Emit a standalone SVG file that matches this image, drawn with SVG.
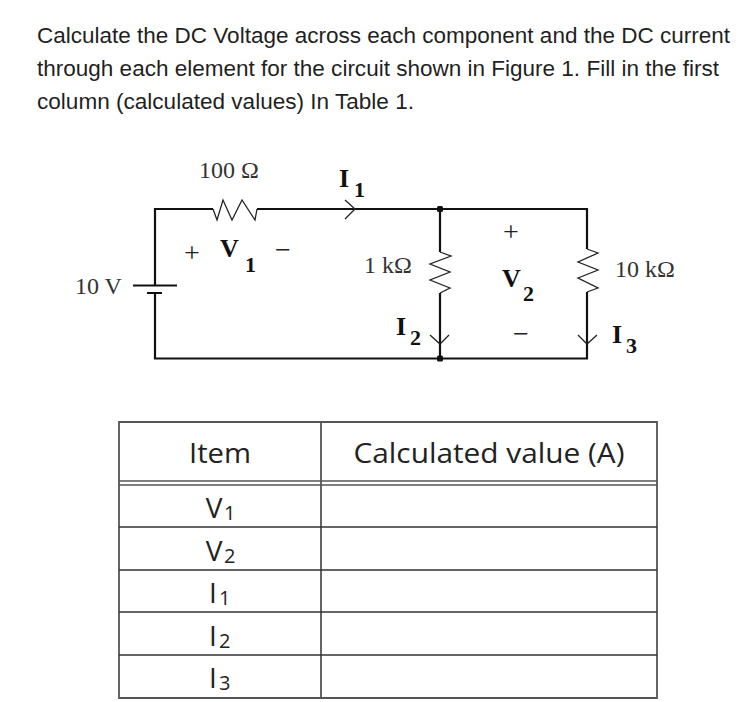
<svg xmlns="http://www.w3.org/2000/svg" width="750" height="702" viewBox="0 0 750 702">
<style>
.p{font:22px "Liberation Sans",Arial,sans-serif;fill:#1f1f1f}
.w{fill:none;stroke:#111;stroke-width:2.200}
.t{fill:none;stroke:#222;stroke-width:1.300}
.v{font:24px "Liberation Serif","Times New Roman",serif;fill:#333}
.m{font:28px "Liberation Serif","Times New Roman",serif;fill:#222}
.b{font:bold 26px "Liberation Serif","Times New Roman",serif;fill:#111}
.s{font:bold 22px "Liberation Serif","Times New Roman",serif;fill:#111}
.c{font:28px "Open Sans",sans-serif;fill:#222;text-anchor:middle}
.u{font:20px "Open Sans",sans-serif;fill:#222}
.g{fill:none;stroke:#555;stroke-width:1.800}
</style>
<rect width="750" height="702" fill="#fff"/>
<g id="intro">
<text class="p" x="37" y="43" textLength="693" lengthAdjust="spacingAndGlyphs">Calculate the DC Voltage across each component and the DC current</text>
<text class="p" x="37" y="76" textLength="682" lengthAdjust="spacingAndGlyphs">through each element for the circuit shown in Figure 1. Fill in the first</text>
<text class="p" x="37" y="109" textLength="377" lengthAdjust="spacingAndGlyphs">column (calculated values) In Table 1.</text>
</g>
<g id="connectors">
<path class="w" d="M155 286V209H213M257 209H587V249M587 292V358.500H155V293M440 209V252M440 293V358.500"/>
<path class="t" d="M345 200L355 209L345 219M430 335L440 344L449 335M578 335L587 344L597 335"/>
<rect x="437" y="206" width="6" height="6" rx="1.500" fill="#111"/>
<rect x="437" y="355.500" width="6" height="6" rx="1.500" fill="#111"/>
</g>
<g id="r1">
<path class="t" d="M213 209L217 220L223 200L232 220L242 200L255 220L257 209"/>
<text class="v" x="199" y="178">100 Ω</text>
</g>
<g id="source">
<path class="w" d="M133 285.500H177M147 293H162"/>
<text class="v" x="75" y="294">10 V</text>
</g>
<g id="r2">
<path class="t" d="M440 252L451 256L430 264L450 272L430 280L450 288L440 293"/>
<text class="v" x="364" y="273">1 kΩ</text>
</g>
<g id="r3">
<path class="t" d="M587 249L598 253L578 262L598 270L578 278L598 288L587 292"/>
<text class="v" x="615" y="277">10 kΩ</text>
</g>
<g id="labels">
<text class="b" x="339" y="187">I</text><text class="s" x="354" y="197">1</text>
<text class="m" x="184" y="262" font-weight="bold">+</text>
<text class="b" x="220" y="257">V</text><text class="s" x="245" y="272">1</text>
<text class="m" x="275" y="259" font-weight="bold">−</text>
<text class="m" x="503" y="241">+</text>
<text class="b" x="502" y="287">V</text><text class="s" x="523" y="301">2</text>
<text class="m" x="513" y="343" font-weight="bold">−</text>
<text class="b" x="396" y="335">I</text><text class="s" x="410" y="345">2</text>
<text class="b" x="612" y="343">I</text><text class="s" x="626" y="353">3</text>
</g>
<g id="table">
<path class="g" d="M119 422H657V698H119ZM321 422V698"/>
<path d="M119 481H657M119 485H657" stroke="#555" stroke-width="1.500"/>
<path d="M119 527H657M119 570H657M119 612H657M119 655H657" stroke="#333" stroke-width="1.500"/>
<text class="c" x="220" y="463" textLength="62" lengthAdjust="spacingAndGlyphs">Item</text>
<text class="c" x="489" y="463" textLength="271" lengthAdjust="spacingAndGlyphs">Calculated value (A)</text>
<text class="c" x="214" y="518">V</text><text class="u" x="224" y="520">1</text>
<text class="c" x="214" y="561">V</text><text class="u" x="224" y="563">2</text>
<text class="c" x="213" y="603">I</text><text class="u" x="219" y="605">1</text>
<text class="c" x="213" y="646">I</text><text class="u" x="219" y="648">2</text>
<text class="c" x="213" y="688">I</text><text class="u" x="219" y="690">3</text>
</g>
</svg>
